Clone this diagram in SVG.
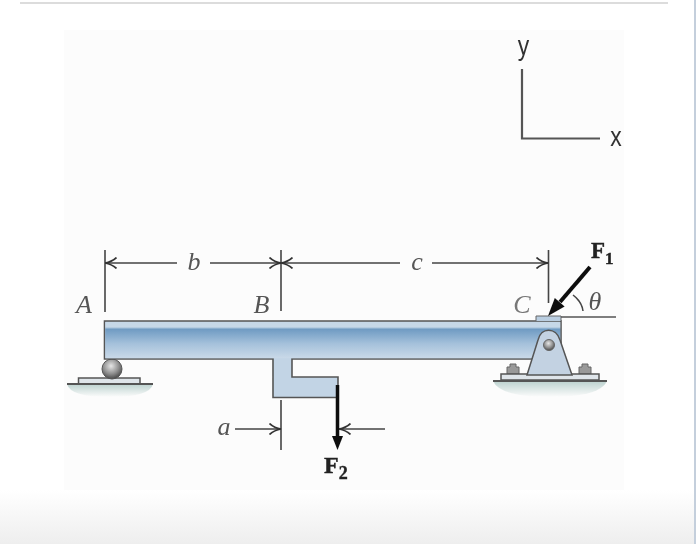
<svg xmlns="http://www.w3.org/2000/svg" width="696" height="544" viewBox="0 0 696 544">
<defs>
<linearGradient id="page" x1="0" y1="0" x2="0" y2="1"><stop offset="0" stop-color="#ffffff"/><stop offset="1" stop-color="#eeeeee"/></linearGradient>
<linearGradient id="beam" x1="0" y1="0" x2="0" y2="1"><stop offset="0" stop-color="#c6d8e8"/><stop offset="0.14" stop-color="#c6d8e8"/><stop offset="0.2" stop-color="#6f9bc3"/><stop offset="0.6" stop-color="#a5c1db"/><stop offset="1" stop-color="#c9d9e8"/></linearGradient>
<linearGradient id="shadow" x1="0" y1="0" x2="0" y2="1"><stop offset="0" stop-color="#bcd2cf"/><stop offset="1" stop-color="#fcfcfc"/></linearGradient>
<radialGradient id="ball" cx="0.45" cy="0.35" r="0.65"><stop offset="0" stop-color="#e6e6e6"/><stop offset="0.6" stop-color="#8f8f8f"/><stop offset="1" stop-color="#4a4a4a"/></radialGradient>
<marker id="open" viewBox="0 0 13 12" refX="12.500" refY="6" markerWidth="13" markerHeight="12" markerUnits="userSpaceOnUse" orient="auto"><path d="M1 0.5 Q6 5 12.500 6 Q6 7 1 11.500" fill="none" stroke="#333" stroke-width="1.700"/></marker>
<filter id="soft" x="-5%" y="-5%" width="110%" height="110%"><feGaussianBlur stdDeviation="0.6"/></filter>
</defs>
<style>
.dim{stroke:#444;stroke-width:1.6;fill:none}
.dimA{stroke:#444;stroke-width:1.6;fill:none;marker-end:url(#open)}
.it{font-family:"Liberation Serif",serif;font-style:italic;font-size:26px;fill:#555}
.bd{font-family:"Liberation Serif",serif;font-weight:bold;fill:#222;stroke:#222;stroke-width:0.4}
.ax{font-family:"Liberation Sans",sans-serif;font-size:27px;fill:#333}
.plate{fill:#c3d2e2;stroke:#555;stroke-width:1.5}
.base{fill:#dfe5ea;stroke:#555;stroke-width:1.5}
</style>
<rect width="696" height="544" fill="#fff"/>
<rect y="490" width="696" height="54" fill="url(#page)"/>
<rect x="64" y="30" width="560" height="460" fill="#fcfcfc"/>
<rect x="20" y="2" width="648" height="2" fill="#dcdcdc"/>
<rect x="694" width="2" height="544" fill="#c4cfdc"/>
<g filter="url(#soft)">
<g id="axes">
<path d="M522 69V138.500H600" fill="none" stroke="#555" stroke-width="2.200"/>
<text class="ax" transform="translate(523.500 55) scale(0.85 1)" text-anchor="middle">y</text>
<text class="ax" transform="translate(616 146) scale(0.85 1)" text-anchor="middle">x</text>
</g>
<g id="support-a">
<path d="M67 384H153Q150 397 110 397Q70 397 67 384Z" fill="url(#shadow)"/>
<rect x="78.500" y="378" width="61.500" height="6" class="base"/>
<path d="M67 384H153" stroke="#555" stroke-width="2"/>
<circle cx="112" cy="369" r="10" fill="url(#ball)" stroke="#555"/>
</g>
<g id="beam-abc">
<path d="M104.500 321H561V359H292V377H338V397.500H273V359H104.500Z" fill="#c2d4e5" stroke="#555" stroke-width="1.600"/>
<rect x="105.300" y="322" width="455" height="36.200" fill="url(#beam)"/>
<path d="M536 321V316H561V321" fill="#b9cde0" stroke="#666" stroke-width="1"/>
</g>
<g id="support-c">
<path d="M493 381H607Q600 397 550 397Q500 397 493 381Z" fill="url(#shadow)"/>
<path d="M510 364h6v3h3v7h-12v-7h3zM582 364h6v3h3v7h-12v-7h3z" fill="#999" stroke="#666"/>
<rect x="501" y="374" width="98" height="6" class="base"/>
<path d="M493 381H607" stroke="#555" stroke-width="2"/>
<path d="M527 375L538 340C541 327 556 327 560 340L572 375Z" class="plate"/>
<circle cx="549" cy="345" r="5.500" fill="url(#ball)" stroke="#666"/>
</g>
<g id="connectors">
<path class="dim" d="M105 250V312M281 250V311M548.500 250V303M281 400V450"/>
<path class="dimA" d="M177 263H105"/>
<path class="dimA" d="M210 263H281"/>
<path class="dimA" d="M400 263H281"/>
<path class="dimA" d="M432 263H548"/>
<path class="dimA" d="M235 429H281"/>
<path class="dimA" d="M385 429H339"/>
<path d="M337.500 385V437" stroke="#111" stroke-width="3.500" fill="none"/>
<path d="M332 436H343L337.500 450Z" fill="#111"/>
<path d="M590 267L560 302" stroke="#111" stroke-width="4" fill="none"/>
<path d="M548 316L554.800 298L564.600 306.500Z" fill="#111"/>
<path d="M561 317H616" stroke="#555" stroke-width="1.600"/>
<path d="M573 295Q582 302 583 311" fill="none" stroke="#444" stroke-width="1.500"/>
</g>
<g id="labels">
<text class="it" x="194" y="270" text-anchor="middle">b</text>
<text class="it" x="417" y="270" text-anchor="middle">c</text>
<text class="it" x="84" y="313" text-anchor="middle">A</text>
<text class="it" x="261.500" y="313" text-anchor="middle">B</text>
<text class="it" x="522" y="313" text-anchor="middle" style="fill:#777">C</text>
<text class="it" x="595" y="310" text-anchor="middle">θ</text>
<text class="it" x="224" y="435" text-anchor="middle">a</text>
<text class="bd" x="591" y="258" font-size="23">F<tspan font-size="17" dy="6">1</tspan></text>
<text class="bd" x="324" y="473" font-size="24">F<tspan font-size="18" dy="6">2</tspan></text>
</g>
</g>
</svg>
